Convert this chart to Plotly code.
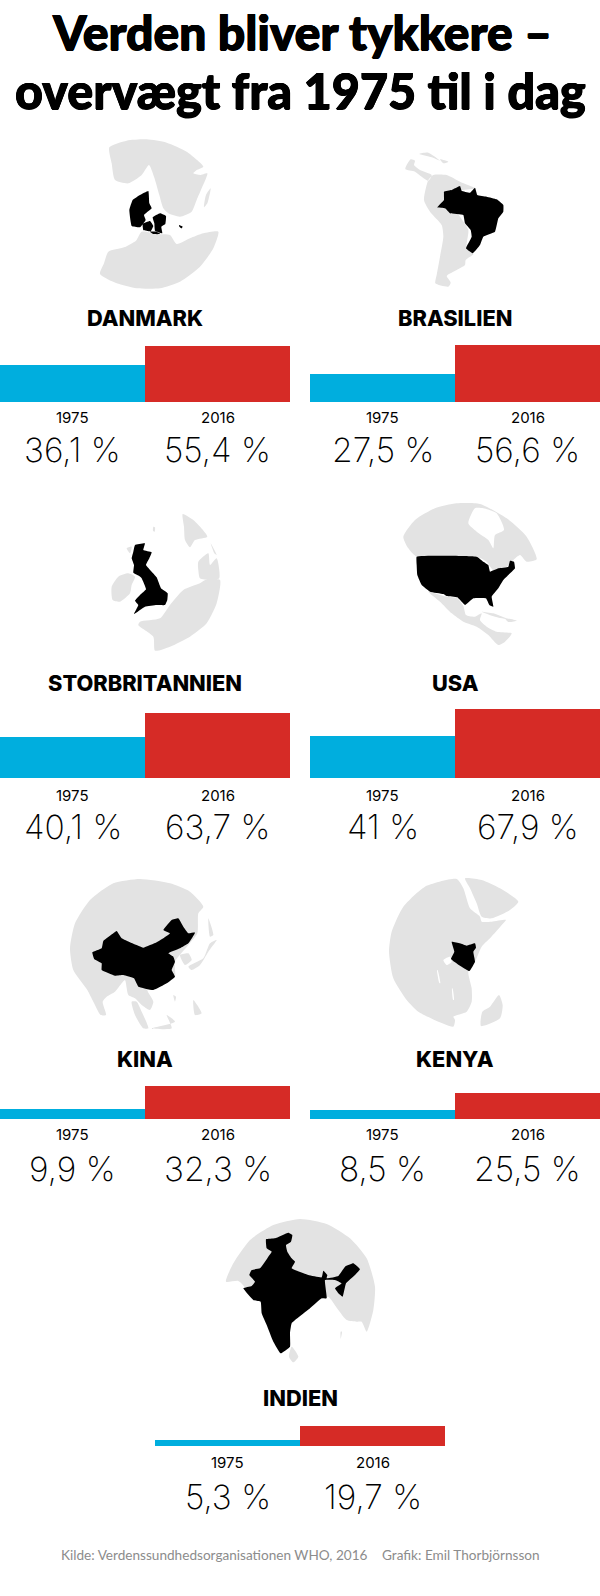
import plotly.graph_objects as go

# --- data ---
COUNTRIES = ["DANMARK", "BRASILIEN", "STORBRITANNIEN", "USA", "KINA", "KENYA", "INDIEN"]
YEARS = ["1975", "2016"]
VALUES_1975 = [36.1, 27.5, 40.1, 41, 9.9, 8.5, 5.3]
VALUES_2016 = [55.4, 56.6, 63.7, 67.9, 32.3, 25.5, 19.7]
TITLE_LINES = ["Verden bliver tykkere –", "overvægt fra 1975 til i dag"]
SOURCE = "Kilde: Verdenssundhedsorganisationen WHO, 2016"
CREDIT = "Grafik: Emil Thorbjörnsson"

DANMARK_GREY = [
    [(328,82),(380,62),(440,58),(500,68),(560,95),(610,140),(590,150),(580,160),(600,165),(622,160),(605,205),(590,240),(575,275),(540,290),(505,280),(490,265),(478,225),(462,170),(447,135),(425,165),(385,190),(345,180),(335,130)],
    [(632,205),(622,250),(612,262),(618,225)],
    [(300,462),(312,430),(325,395),(372,382),(408,362),(425,335),(470,342),(510,345),(530,372),(570,355),(610,340),(655,335),(640,385),(600,440),(540,485),(480,505),(410,505),(350,490)],
]
DANMARK_BLACK = [
    [(445,213),(448,250),(455,265),(432,285),(437,300),(420,322),(395,318),(388,270),(398,240),(420,225)],
    [(428,312),(450,303),(460,318),(452,334),(430,330)],
    [(458,292),(480,280),(498,288),(496,312),(484,320),(487,340),(465,332),(463,310)],
    [(450,335),(470,335),(482,342),(460,342)],
    [(537,315),(548,320),(545,325),(538,320)],
]
BRASILIEN_GREY = [
    [(385,180),(372,240),(390,275),(425,315),(430,350),(420,410),(410,465),(406,490),(445,500),(452,488),(440,468),(470,450),(495,435),(497,420),(520,402),(500,380),(505,330),(480,290),(430,220),(525,205),(480,185),(440,165),(400,165)],
    [(316,147),(332,118),(345,122),(342,135),(360,150),(395,165),(385,182),(365,170),(345,155)],
    [(358,102),(385,98),(420,122),(395,112)],
    [(420,118),(445,125),(430,130)],
]
BRASILIEN_BLACK = [
    [(412,262),(432,240),(432,215),(455,210),(480,198),(485,212),(510,218),(525,203),(532,225),(560,230),(590,238),(610,255),(610,275),(595,295),(585,335),(550,350),(540,375),(518,400),(498,385),(515,350),(512,330),(495,310),(490,285),(450,280),(435,265)],
]
UK_GREY = [
    [(368,72),(400,90),(442,140),(405,150),(390,172),(375,150),(372,110)],
    [(415,215),(445,190),(450,225),(470,205),(478,265),(450,270),(420,265),(415,240)],
    [(452,160),(470,195),(463,190)],
    [(480,270),(470,340),(440,400),(390,440),(330,470),(285,482),(280,440),(235,405),(240,395),(300,385),(330,345),(370,300),(420,280),(440,268)],
    [(158,330),(155,290),(175,260),(205,250),(225,260),(215,285),(210,310),(180,335)],
    [(280,110),(285,112),(284,125),(279,122)],
    [(200,175),(215,170),(210,190)],
]
UK_BLACK = [
    [(225,165),(255,160),(250,180),(275,187),(268,205),(258,225),(275,245),(290,262),(303,295),(323,310),(322,330),(315,345),(290,345),(255,350),(222,372),(235,345),(225,332),(240,315),(258,298),(245,265),(238,258),(220,248),(222,225),(215,205),(220,185)],
]
USA_GREY = [
    [(70,140),(105,90),(165,55),(230,40),(300,42),(380,85),(440,140),(470,208),(440,215),(420,195),(400,210),(380,230),(340,240),(320,215),(290,200),(110,200),(85,175)],
    [(145,305),(190,318),(232,325),(250,348),(258,375),(285,380),(305,370),(300,390),(320,410),(350,425),(395,430),(375,455),(355,465),(325,435),(290,410),(250,395),(215,370),(180,335)],
    [(305,365),(340,370),(385,388),(345,380)],
    [(375,385),(410,392),(385,396)],
]
USA_WHITE = [
    [(265,100),(285,55),(310,55),(350,70),(372,120),(345,135),(340,175),(325,150),(290,125)],
]
USA_BLACK = [
    [(110,200),(290,200),(310,215),(325,225),(330,245),(355,235),(385,230),(390,212),(402,215),(405,235),(385,255),(370,270),(355,295),(335,320),(340,350),(328,345),(318,325),(280,325),(255,345),(232,322),(200,318),(190,312),(150,305),(125,285),(112,255),(110,225)],
]
KINA_GREY = [
    [(430,155),(390,110),(330,85),(240,72),(160,85),(90,135),(45,205),(30,280),(40,345),(82,405),(100,440),(122,480),(138,480),(128,440),(140,425),(165,410),(185,385),(195,375),(205,420),(225,430),(245,450),(270,465),(280,440),(262,405),(280,405),(320,385),(345,365),(345,320),(385,270),(412,235),(415,175)],
    [(215,440),(230,440),(245,470),(265,520),(250,520),(225,480)],
    [(335,520),(320,480),(345,500),(275,520)],
    [(385,335),(430,310),(450,265),(470,255),(445,290),(420,330),(395,345)],
    [(445,190),(460,240),(450,245)],
    [(360,300),(385,295),(395,315),(375,330),(365,315)],
    [(340,420),(348,425),(345,440)],
    [(400,435),(425,475),(405,480)],
]
KINA_BLACK = [
    [(97,292),(125,280),(130,258),(160,235),(170,228),(185,250),(210,262),(250,278),(290,262),(310,250),(330,235),(310,225),(335,195),(355,190),(370,215),(385,235),(405,233),(385,265),(360,280),(325,295),(340,305),(345,320),(335,345),(345,365),(320,385),(280,405),(235,395),(222,370),(190,360),(165,362),(125,345),(125,325),(103,313)],
]
KENYA_GREY = [
    [(245,72),(150,95),(85,155),(50,230),(42,290),(55,370),(95,435),(130,470),(235,515),(240,495),(235,485),(275,470),(290,440),(290,400),(280,350),(300,320),(320,275),(345,250),(385,205),(393,195),(350,200),(320,200),(315,185),(285,160),(265,100)],
    [(270,70),(320,75),(375,100),(430,140),(405,165),(350,190),(320,185),(305,145),(285,100)],
    [(322,470),(345,455),(372,420),(383,450),(375,490),(318,513)],
]
KENYA_WHITE = [
    [(205,315),(225,305),(230,320),(215,330)],
    [(186,345),(188,346),(196,385),(193,384)],
    [(231,400),(233,401),(237,435),(234,434)],
]
KENYA_BLACK = [
    [(230,260),(255,265),(275,272),(300,265),(303,278),(295,290),(300,320),(283,348),(228,312),(238,290)],
]
INDIEN_GREY = [
    [(48,245),(70,190),(120,120),(190,75),(270,57),(350,72),(420,115),(470,175),(495,260),(490,330),(470,395),(455,365),(440,365),(410,360),(385,330),(355,290),(340,295),(200,300),(135,300),(105,262),(85,243)],
    [(245,440),(265,470),(250,487),(237,470)],
    [(392,395),(396,395),(392,417)],
]
INDIEN_BLACK = [
    [(168,118),(195,115),(235,98),(247,105),(243,125),(228,135),(232,155),(245,175),(255,185),(245,205),(295,225),(335,232),(340,212),(352,225),(350,235),(385,228),(405,200),(430,190),(450,208),(435,225),(408,250),(398,290),(385,280),(375,265),(395,250),(375,240),(345,240),(350,295),(335,295),(300,325),(245,370),(240,400),(240,440),(212,460),(190,425),(170,375),(155,340),(152,305),(130,300),(100,265),(125,258),(135,245),(118,225),(125,210),(150,205),(175,170),(185,155),(170,145)],
]

# --- layout constants, page pixels ---
W, H = 600, 1596
BLUE, RED, GREY = "#00AEDE", "#D62B26", "#E3E3E3"
FONT = "Inter, Lato, sans-serif"
BAR_W = 145
PX_PER_PCT = 1.01
AXIS_MAX = 70
# left edge of bars, bar baseline, y of country label, year, value
PANELS = [
    (0, 402, 318, 418, 450),
    (310, 402, 318, 418, 450),
    (0, 778, 683, 795, 827),
    (310, 778, 683, 795, 827),
    (0, 1119, 1059, 1134, 1169),
    (310, 1119, 1059, 1134, 1169),
    (155, 1446, 1398, 1462, 1497),
]
MAPS = [
    (0, 120, DANMARK_GREY, [], DANMARK_BLACK),
    (300, 120, BRASILIEN_GREY, [], BRASILIEN_BLACK),
    (60, 490, UK_GREY, [], UK_BLACK),
    (380, 490, USA_GREY, USA_WHITE, USA_BLACK),
    (60, 855, KINA_GREY, [], KINA_BLACK),
    (375, 855, KENYA_GREY, KENYA_WHITE, KENYA_BLACK),
    (210, 1200, INDIEN_GREY, [], INDIEN_BLACK),
]


def label(text, x, y, size, color="#000", weight=400, family=FONT, shadow=None):
    font = dict(family=family, size=size, color=color, weight=weight)
    if shadow:
        font["shadow"] = shadow
    return dict(
        text=text, x=x / W, y=1 - y / H, xref="paper", yref="paper",
        xanchor="center", yanchor="middle", showarrow=False, font=font,
    )


def pct(v):
    return f"{v:g}".replace(".", ",") + " %"


def polygon_trace(polys, ox, oy, color, smoothing):
    xs, ys = [], []
    for poly in polys:
        xs += [ox + p[0] / 3 for p in poly] + [ox + poly[0][0] / 3, None]
        ys += [oy + p[1] / 3 for p in poly] + [oy + poly[0][1] / 3, None]
    return go.Scatter(
        x=xs, y=ys, xaxis="x8", yaxis="y8", mode="lines", fill="toself",
        fillcolor=color, line=dict(width=0, shape="spline", smoothing=smoothing),
        hoverinfo="skip", showlegend=False,
    )


# lato black is a bit light next to the original, thicken it with a hard shadow
HEAVY = "0.6px 0 0 #000, -0.6px 0 0 #000, 0 0.5px 0 #000, 0 -0.5px 0 #000"

fig = go.Figure()
layout = {}
notes = [
    label(TITLE_LINES[0], 302, 31, 48, weight=900, family="Lato, sans-serif", shadow=HEAVY),
    label(TITLE_LINES[1], 300, 90, 48.5, weight=900, family="Lato, sans-serif", shadow=HEAVY),
    label(SOURCE, 214, 1555, 13.6, color="#8c8c8c", family="Lato, sans-serif"),
    label(CREDIT, 461, 1555, 13.6, color="#8c8c8c", family="Lato, sans-serif"),
]

for i, name in enumerate(COUNTRIES):
    x0, base, y_name, y_year, y_val = PANELS[i]
    n = i + 1
    fig.add_trace(go.Bar(
        x=YEARS, y=[VALUES_1975[i], VALUES_2016[i]],
        marker=dict(color=[BLUE, RED], line=dict(width=0)),
        xaxis=f"x{n}", yaxis=f"y{n}", showlegend=False,
        hovertemplate="%{x}: %{y} %<extra></extra>",
    ))
    layout[f"xaxis{n}"] = dict(
        domain=[x0 / W, (x0 + 2 * BAR_W) / W], anchor=f"y{n}", type="category",
        visible=False, fixedrange=True,
    )
    layout[f"yaxis{n}"] = dict(
        domain=[1 - base / H, 1 - (base - AXIS_MAX * PX_PER_PCT) / H], anchor=f"x{n}",
        range=[0, AXIS_MAX], visible=False, fixedrange=True,
    )
    notes.append(label(name, x0 + BAR_W, y_name, 21.8, weight=800))
    notes.append(label(YEARS[0], x0 + BAR_W / 2, y_year, 15))
    notes.append(label(YEARS[1], x0 + 1.5 * BAR_W, y_year, 15))
    notes.append(label(pct(VALUES_1975[i]), x0 + BAR_W / 2, y_val, 33.5, weight=200))
    notes.append(label(pct(VALUES_2016[i]), x0 + 1.5 * BAR_W, y_val, 33.5, weight=200))

for ox, oy, grey, white, black in MAPS:
    fig.add_trace(polygon_trace(grey, ox, oy, GREY, 0.6))
    if white:
        fig.add_trace(polygon_trace(white, ox, oy, "#FFFFFF", 0.6))
    fig.add_trace(polygon_trace(black, ox, oy, "#000000", 0.3))

layout["xaxis8"] = dict(domain=[0, 1], range=[0, W], visible=False, anchor="y8", fixedrange=True)
layout["yaxis8"] = dict(domain=[0, 1], range=[H, 0], visible=False, anchor="x8", fixedrange=True)

fig.update_layout(
    width=W, height=H, margin=dict(l=0, r=0, t=0, b=0),
    paper_bgcolor="#FFFFFF", plot_bgcolor="rgba(0,0,0,0)",
    bargap=0, annotations=notes, **layout,
)

fig.write_html("out.html", config=dict(displayModeBar=False),
               post_script="document.body.style.margin='0';")
